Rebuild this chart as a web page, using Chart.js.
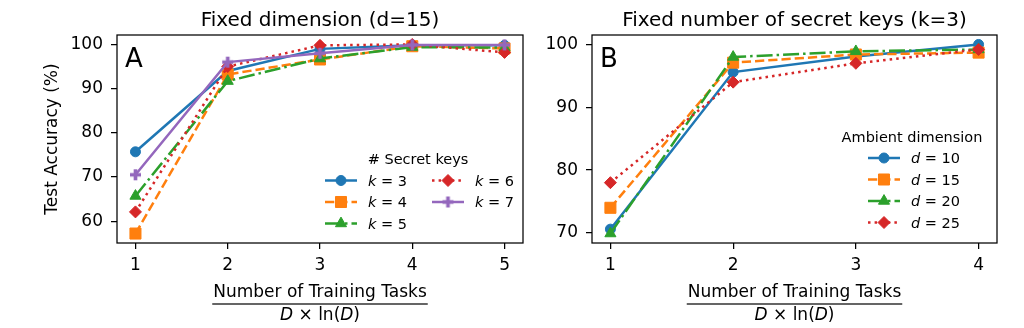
<!DOCTYPE html>
<html><head><meta charset="utf-8">
<script src="https://cdn.jsdelivr.net/npm/chart.js@4.4.0/dist/chart.umd.min.js"></script>
<style>
html,body{margin:0;padding:0;background:#fff;width:1024px;height:328px;overflow:hidden}
canvas{position:absolute;left:0;top:0}
</style></head><body>
<canvas id="c1" width="1024" height="328"></canvas>
<canvas id="c2" width="1024" height="328"></canvas>
<script>
// ---- data ----
const tasksA = [1, 2, 3, 4, 5];
const k3 = [75.7, 94.0, 99.0, 99.8, 99.8];
const k4 = [57.2, 93.2, 96.6, 99.6, 99.1];
const k5 = [65.7, 91.7, 96.8, 99.4, 99.3];
const k6 = [62.1, 95.0, 99.8, 100.0, 98.2];
const k7 = [70.5, 96.0, 98.0, 99.9, 99.9];
const keysLabels = ['3', '4', '5', '6', '7'];

const tasksB = [1, 2, 3, 4];
const d10 = [70.6, 95.6, 98.1, 100.0];
const d15 = [74.0, 97.1, 98.4, 98.7];
const d20 = [69.9, 98.0, 98.9, 99.2];
const d25 = [78.0, 94.0, 97.0, 99.2];
const dimLabels = ['10', '15', '20', '25'];

const yTicksA = [60, 70, 80, 90, 100];
const yTicksB = [70, 80, 90, 100];

// ---- styles ----
const FONT = '"DejaVu Sans", sans-serif';
const AX = 17;      // tick / axis label size
const LG = 14.5;    // legend size
const COLORS = ['#1f77b4', '#ff7f0e', '#2ca02c', '#d62728', '#9467bd'];
const DASHES = [[], [9.25, 4], [16, 4, 2.5, 4], [2.5, 4.1], []];
function makePlus(color, s) {
  const c = document.createElement('canvas');
  c.width = s; c.height = s;
  const g = c.getContext('2d');
  const o = 1, w = s - 2 * o, a = w / 3;
  g.fillStyle = color;
  g.beginPath();
  g.moveTo(o + a, o); g.lineTo(o + 2 * a, o); g.lineTo(o + 2 * a, o + a);
  g.lineTo(o + w, o + a); g.lineTo(o + w, o + 2 * a); g.lineTo(o + 2 * a, o + 2 * a);
  g.lineTo(o + 2 * a, o + w); g.lineTo(o + a, o + w); g.lineTo(o + a, o + 2 * a);
  g.lineTo(o, o + 2 * a); g.lineTo(o, o + a); g.lineTo(o + a, o + a);
  g.closePath(); g.fill();
  return c;
}
const plusImg = makePlus('#9467bd', 13);
const PSTYLE = ['circle', 'rect', 'triangle', 'rectRot', plusImg];
const PRAD = [5, 7.8, 6.4, 6, 6];

function mkDatasets(xs, ys, labels, prefix) {
  return ys.map((arr, i) => ({
    label: prefix + ' = ' + labels[i],
    data: arr.map((v, j) => ({x: xs[j], y: v})),
    borderColor: COLORS[i], backgroundColor: COLORS[i],
    borderWidth: 2.5, borderDash: DASHES[i],
    pointStyle: PSTYLE[i], pointRadius: PRAD[i], pointHoverRadius: PRAD[i],
    pointBorderWidth: 1, pointBorderColor: COLORS[i], pointBackgroundColor: COLORS[i],
    tension: 0, order: ys.length - i
  }));
}
function range(arrs) {
  const all = [].concat(...arrs);
  const lo = Math.min(...all), hi = Math.max(...all);
  const m = 0.05 * (hi - lo);
  return [lo - m, hi + m];
}

function decorPlugin(cfg) {
  return {
    id: 'decor',
    afterDatasetsDraw(chart) {
      const ctx = chart.ctx, ca = chart.chartArea;
      const cx = (ca.left + ca.right) / 2;
      ctx.save();
      // box
      ctx.strokeStyle = '#000'; ctx.lineWidth = 1.25; ctx.setLineDash([]);
      ctx.strokeRect(ca.left, ca.top, ca.right - ca.left, ca.bottom - ca.top);
      ctx.fillStyle = '#000';
      // title
      ctx.font = '20px ' + FONT; ctx.textAlign = 'center'; ctx.textBaseline = 'alphabetic';
      ctx.fillText(cfg.title, cx, 26);
      // panel letter
      ctx.font = '26px ' + FONT; ctx.textAlign = 'left';
      ctx.fillText(cfg.letter, ca.left + 8, 67);
      // x title fraction
      ctx.font = AX + 'px ' + FONT; ctx.textAlign = 'center';
      const num = 'Number of Training Tasks';
      const w = ctx.measureText(num).width;
      ctx.fillText(num, cx, 297);
      ctx.fillRect(cx - w / 2 - 1, 303.4, w + 2, 1.2);
      const parts = [['D', 1], [' \u00d7 ', 0], ['ln(', 0], ['D', 1], [')', 0]];
      let tot = 0;
      parts.forEach(p => { ctx.font = (p[1] ? 'italic ' : '') + AX + 'px ' + FONT; tot += ctx.measureText(p[0]).width; });
      let x = cx - tot / 2; ctx.textAlign = 'left';
      parts.forEach(p => { ctx.font = (p[1] ? 'italic ' : '') + AX + 'px ' + FONT; ctx.fillText(p[0], x, 320); x += ctx.measureText(p[0]).width; });
      // y label
      if (cfg.ylabel) {
        ctx.save();
        ctx.translate(57, (ca.top + ca.bottom) / 2); ctx.rotate(-Math.PI / 2);
        ctx.font = AX + 'px ' + FONT; ctx.textAlign = 'center';
        ctx.fillText(cfg.ylabel, 0, 0);
        ctx.restore();
      }
      // legend
      const L = cfg.legend;
      ctx.font = LG + 'px ' + FONT; ctx.textAlign = 'center';
      ctx.fillText(L.title, L.titleX, L.titleY);
      chart.data.datasets.forEach((ds, i) => {
        const pos = L.pos[i];
        const hx0 = pos[0], hx1 = pos[0] + 32, y = pos[1];
        ctx.strokeStyle = ds.borderColor; ctx.lineWidth = ds.borderWidth;
        ctx.setLineDash(ds.borderDash); ctx.lineCap = 'butt';
        ctx.beginPath(); ctx.moveTo(hx0, y); ctx.lineTo(hx1, y); ctx.stroke();
        ctx.setLineDash([]);
        ctx.fillStyle = ds.backgroundColor; ctx.strokeStyle = ds.borderColor; ctx.lineWidth = 1;
        Chart.helpers.drawPoint(ctx, {pointStyle: ds.pointStyle, radius: ds.pointRadius, rotation: 0, borderWidth: 1}, (hx0 + hx1) / 2, y);
        ctx.fillStyle = '#000';
        ctx.textAlign = 'left';
        let tx = hx1 + 11;
        ctx.font = 'italic ' + LG + 'px ' + FONT;
        ctx.fillText(L.sym, tx, y + 5.3);
        tx += ctx.measureText(L.sym).width;
        ctx.font = LG + 'px ' + FONT;
        ctx.fillText(' = ' + L.vals[i], tx, y + 5.3);
      });
      ctx.restore();
    }
  };
}

function mkChart(id, xs, series, labels, sym, yTicks, xTicks, yWidth, padRight, deco) {
  const [ymin, ymax] = range(series);
  const xr = xs[xs.length - 1] - xs[0];
  return new Chart(document.getElementById(id), {
    type: 'line',
    data: {datasets: mkDatasets(xs, series, labels, sym)},
    options: {
      responsive: false, animation: false, devicePixelRatio: 1, events: [],
      layout: {padding: {left: 0, top: 35, right: padRight, bottom: 0}},
      plugins: {legend: {display: false}, tooltip: {enabled: false}, title: {display: false}},
      scales: {
        x: {
          type: 'linear', min: xs[0] - 0.05 * xr, max: xs[xs.length - 1] + 0.05 * xr,
          afterBuildTicks: s => { s.ticks = xTicks.map(v => ({value: v})); },
          afterFit: s => { s.height = 85; },
          grid: {display: true, drawOnChartArea: false, drawTicks: true, tickLength: 6, color: '#000', lineWidth: 1.25},
          border: {display: false},
          ticks: {color: '#000', font: {family: FONT, size: AX}, padding: 6, maxRotation: 0, autoSkip: false}
        },
        y: {
          type: 'linear', min: ymin, max: ymax,
          afterBuildTicks: s => { s.ticks = yTicks.map(v => ({value: v})); },
          afterFit: s => { s.width = yWidth; },
          grid: {display: true, drawOnChartArea: false, drawTicks: true, tickLength: 6, color: '#000', lineWidth: 1.25},
          border: {display: false},
          ticks: {color: '#000', font: {family: FONT, size: AX}, padding: 8, autoSkip: false}
        }
      }
    },
    plugins: [decorPlugin(deco)]
  });
}

mkChart('c1', tasksA, [k3, k4, k5, k6, k7], keysLabels, 'k', yTicksA, tasksA, 117, 501, {
  title: 'Fixed dimension (d=15)', letter: 'A', ylabel: 'Test Accuracy (%)',
  legend: {title: '# Secret keys', titleX: 418, titleY: 163.5, sym: 'k', vals: keysLabels,
    pos: [[325, 180.5], [325, 202], [325, 223.5], [432, 180.5], [432, 202]]}
});
mkChart('c2', tasksB, [d10, d15, d20, d25], dimLabels, 'd', yTicksB, tasksB, 592, 27, {
  title: 'Fixed number of secret keys (k=3)', letter: 'B', ylabel: null,
  legend: {title: 'Ambient dimension', titleX: 912, titleY: 141.5, sym: 'd', vals: dimLabels,
    pos: [[868, 158], [868, 179.5], [868, 201], [868, 222.5]]}
});
</script>
</body></html>
